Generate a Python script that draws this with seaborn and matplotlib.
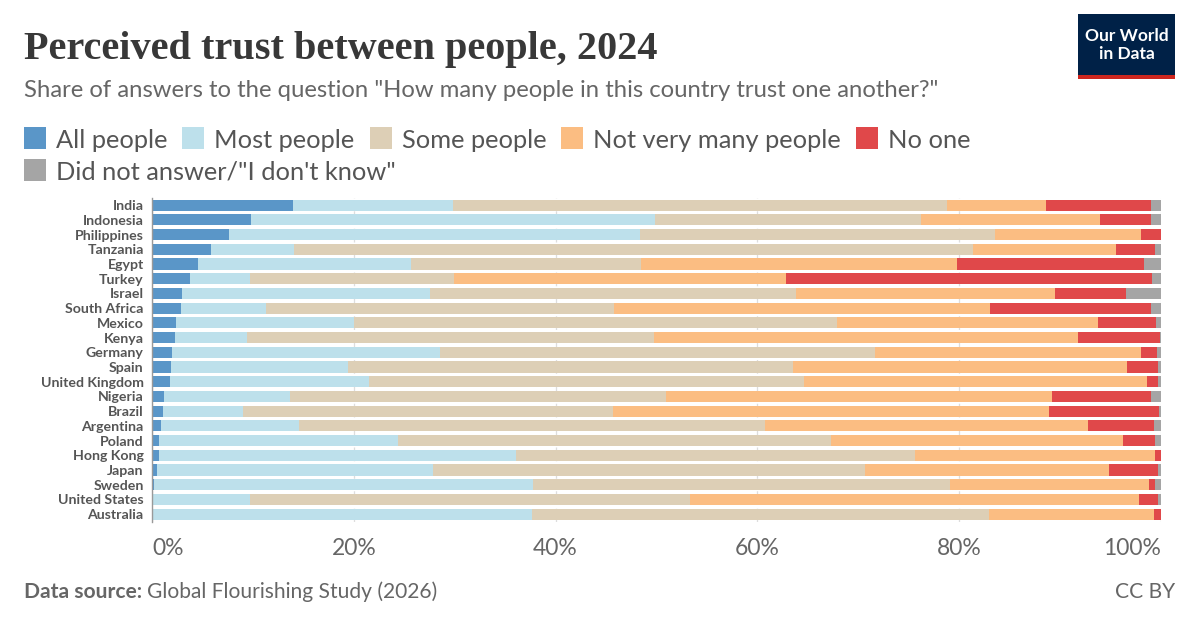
import numpy as np
import pandas as pd
import seaborn as sns
import matplotlib.pyplot as plt
from matplotlib.patches import Rectangle
from matplotlib.ticker import FuncFormatter

# Data (shares in %)
countries = ['India', 'Indonesia', 'Philippines', 'Tanzania', 'Egypt', 'Turkey', 'Israel',
             'South Africa', 'Mexico', 'Kenya', 'Germany', 'Spain', 'United Kingdom', 'Nigeria',
             'Brazil', 'Argentina', 'Poland', 'Hong Kong', 'Japan', 'Sweden', 'United States',
             'Australia']
all_people = [14.0, 9.8, 7.6, 5.8, 4.6, 3.8, 3.0, 2.9, 2.4, 2.3, 2.0,
              1.9, 1.8, 1.2, 1.1, 0.9, 0.7, 0.7, 0.5, 0.2, 0.1, 0.05]
most_people = [15.8, 40.1, 40.8, 8.3, 21.1, 5.9, 24.6, 8.4, 17.6, 7.1, 26.5,
               17.5, 19.7, 12.5, 7.9, 13.7, 23.7, 35.4, 27.3, 37.6, 9.6, 37.6]
some_people = [49.0, 26.3, 35.1, 67.3, 22.8, 20.2, 36.2, 34.5, 47.9, 40.4, 43.2,
               44.1, 43.1, 37.2, 36.7, 46.2, 42.9, 39.5, 42.9, 41.3, 43.6, 45.3]
not_very_many = [9.8, 17.8, 14.5, 14.1, 31.3, 32.9, 25.7, 37.3, 25.9, 42.0, 26.3,
                 33.1, 34.0, 38.3, 43.2, 32.0, 28.9, 23.8, 24.1, 19.7, 44.5, 16.4]
no_one = [10.4, 5.0, 2.0, 3.9, 18.5, 36.3, 7.0, 15.9, 5.7, 8.1, 1.6,
          3.1, 1.1, 9.8, 10.9, 6.5, 3.2, 0.6, 4.9, 0.6, 1.9, 0.7]
no_answer = [1.0, 1.0, 0.0, 0.6, 1.7, 0.9, 3.5, 1.0, 0.5, 0.2, 0.4,
             0.3, 0.3, 1.0, 0.2, 0.7, 0.6, 0.0, 0.3, 0.6, 0.3, 0.0]

categories = ['All people', 'Most people', 'Some people', 'Not very many people', 'No one',
              'Did not answer/"I don\'t know"']
colors = ['#5a96c8', '#bde0eb', '#ddcfb6', '#fbbd82', '#e0484a', '#a5a5a5']

df = pd.DataFrame({
    'country': countries,
    categories[0]: all_people,
    categories[1]: most_people,
    categories[2]: some_people,
    categories[3]: not_very_many,
    categories[4]: no_one,
    categories[5]: no_answer,
})
cum = df[categories].cumsum(axis=1)

sns.set_style('white')
plt.rcParams['font.family'] = ['Lato', 'DejaVu Sans']

fig = plt.figure(figsize=(12, 6.27), dpi=100)
ax = fig.add_axes([152 / 1200, 1 - 521.5 / 627, 1009 / 1200, 323.7 / 627])

# stacked bars: draw the cumulative totals from the right, each overlays the previous
for cat, col in reversed(list(zip(categories, colors))):
    sns.barplot(x=cum[cat], y=df['country'], orient='h', color=col, saturation=1,
                width=0.75, linewidth=0, ax=ax, zorder=2)

ax.set_xlim(0, 100)
ax.set_xticks([0, 20, 40, 60, 80, 100])
ax.xaxis.set_major_formatter(FuncFormatter(lambda v, p: f'{v:.0f}%'))
ax.grid(axis='x', color='#dddddd', linestyle=(0, (4, 3)), linewidth=0.9, zorder=0)
ax.set_axisbelow(True)
ax.set_xlabel('')
ax.set_ylabel('')
for s in ['top', 'right', 'bottom']:
    ax.spines[s].set_visible(False)
ax.spines['left'].set_color('#999999')
ax.spines['left'].set_linewidth(1)
ax.tick_params(axis='x', length=0, pad=12, labelsize=16.5, labelcolor='#666666')
ax.tick_params(axis='y', length=0, pad=6, labelsize=10.2, labelcolor='#555555')
for lab in ax.get_yticklabels():
    lab.set_fontweight('bold')
xlabs = ax.get_xticklabels()
xlabs[0].set_horizontalalignment('left')
xlabs[-1].set_horizontalalignment('right')

# title and subtitle
fig.text(24 / 1200, 1 - 59 / 627, 'Perceived trust between people, 2024',
         family='Liberation Serif', fontweight='bold', fontsize=29, color='#383838')
fig.text(24 / 1200, 1 - 97 / 627,
         'Share of answers to the question "How many people in this country trust one another?"',
         fontsize=17.2, color='#666666')

# legend
fig.canvas.draw()
renderer = fig.canvas.get_renderer()
x = 24
rows_y = [138, 170]
row = 0
for i, (cat, col) in enumerate(zip(categories, colors)):
    if i == 5:
        row = 1
        x = 24
    yc = rows_y[row]
    fig.patches.append(Rectangle((x / 1200, 1 - (yc + 11) / 627), 22 / 1200, 22 / 627,
                                 transform=fig.transFigure, facecolor=col, edgecolor='none'))
    t = fig.text((x + 32) / 1200, 1 - yc / 627, cat, fontsize=18.3, color='#555555',
                 va='center_baseline')
    w = t.get_window_extent(renderer).width
    x = x + 32 + w + 15

# logo
fig.patches.append(Rectangle((1078 / 1200, 1 - 75 / 627), 97 / 1200, 61 / 627,
                             transform=fig.transFigure, facecolor='#002147', edgecolor='none'))
fig.patches.append(Rectangle((1078 / 1200, 1 - 79 / 627), 97 / 1200, 4 / 627,
                             transform=fig.transFigure, facecolor='#ce261e', edgecolor='none'))
fig.text(1126.5 / 1200, 1 - 45 / 627, 'Our World\nin Data', ha='center', va='center',
         fontsize=12.5, fontweight='bold', color='white', linespacing=1.1)

# footer
t = fig.text(24 / 1200, 1 - 598 / 627, 'Data source:', fontsize=15.1, fontweight='bold',
             color='#666666')
w = t.get_window_extent(renderer).width
fig.text((24 + w + 5) / 1200, 1 - 598 / 627, 'Global Flourishing Study (2026)', fontsize=15.1,
         color='#666666')
fig.text(1175 / 1200, 1 - 598 / 627, 'CC BY', fontsize=15.1, color='#666666', ha='right')

fig.savefig('out.png', dpi=100)
